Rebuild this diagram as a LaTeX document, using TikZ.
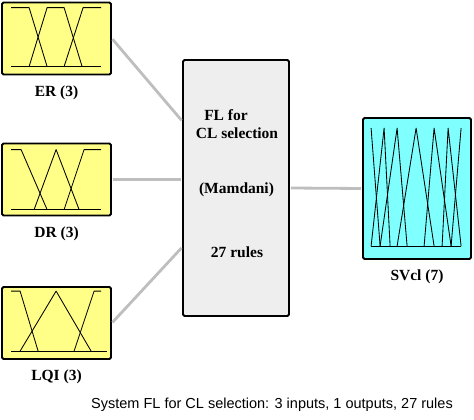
\documentclass[tikz,border=0pt]{standalone}
\usepackage{fontspec}
\setmainfont{Liberation Serif}
\newfontfamily\sysfont{Liberation Sans}
\usepackage{xcolor}
\usepackage{tikz}
\usetikzlibrary{
  positioning,
  calc
}
\definecolor{invar}{RGB}{255,255,136}
\definecolor{outvar}{RGB}{128,255,255}
\definecolor{rulebox}{RGB}{238,238,238}
\definecolor{linkgray}{RGB}{190,190,190}

\begin{document}
\begin{tikzpicture}[%設定
          x=1pt,y=-1pt,
          varbox/.style={
              draw=black,
              line width=1.8pt,
              rounded corners=1.5pt,
              minimum width=109pt,
              minimum height=72pt,
              inner sep=0pt,
              fill=#1
            },varbox/.default=invar
          ,mf/.style={
              line width=0.85pt,
              line join=round
            },varname/.style={
              font=\fontsize{15.5}{18}\selectfont\bfseries,
              inner sep=0pt,
              below=10pt of #1
            },boldtext/.style={
              font=\fontsize{15.5}{18}\selectfont\bfseries,
              inner sep=0pt
            },link/.style={
              draw=linkgray,
              line width=2.8pt,
              shorten <=0.9pt,
              shorten >=0.9pt
            }
        ]
        \useasboundingbox (0,0) rectangle (474,420);

        % 入力変数
        \node[varbox] (er) at (56.5,38.5) {};
        \node[varname=er] (er_name) {ER (3)};
        \node[varbox] (dr) at (56.5,179.5) {};
        \node[varname=dr] (dr_name) {DR (3)};
        \node[varbox] (lqi) at (56.5,323) {};
        \node[varname=lqi] (lqi_name) {LQI (3)};

        % ルールブロック
        \node[
          varbox=rulebox,
          minimum width=106pt,
          minimum height=256pt
        ] (fl) at (236,188) {};
        \node[boldtext] (fl_title) at (226,115) {FL for};
        \node[boldtext] (fl_sel) at (237,133) {CL selection};
        \node[boldtext] (fl_type) at (236.5,190) {(Mamdani)};
        \node[boldtext] (fl_rules) at (237,252) {27 rules};

        % 出力変数
        \node[
          varbox=outvar,
          minimum width=108pt,
          minimum height=141pt
        ] (svcl) at (417,188.5) {};
        \node[varname=svcl] (svcl_name) {SVcl (7)};

        % メンバーシップ関数
        \begin{scope}[shift={(er.north west)}]
          \draw[mf] (10,65) -- (100,65);
          \draw[mf] (10,6) -- (28,6) -- (46,65);
          \draw[mf] (28,65) -- (46,6) -- (63,6) -- (81,65);
          \draw[mf] (63,65) -- (82,6) -- (100,6);
        \end{scope}
        \begin{scope}[shift={(dr.north west)}]
          \draw[mf] (10,67) -- (100,67);
          \draw[mf] (10,7) -- (20,7) -- (46,67);
          \draw[mf] (33,67) -- (55,7) -- (78,67);
          \draw[mf] (63,67) -- (83,7) -- (100,7);
        \end{scope}
        \begin{scope}[shift={(lqi.north west)}]
          \draw[mf] (10,65) -- (106,65);
          \draw[mf] (10,5) -- (19,5) -- (37,65);
          \draw[mf] (19,65) -- (55,5) -- (90,65);
          \draw[mf] (73,65) -- (93,5) -- (100,5);
        \end{scope}
        \begin{scope}[shift={(svcl.north west)}]
          \draw[mf] (9,129) -- (99,129);
          \draw[mf] (9,11) -- (18,129);
          \draw[mf] (9,129) -- (22,11) -- (28,129);
          \draw[mf] (18,129) -- (35,11) -- (45,129);
          \draw[mf] (35,129) -- (54,11) -- (72,129);
          \draw[mf] (62,129) -- (72,11) -- (89,129);
          \draw[mf] (80,129) -- (86,11) -- (99,129);
          \draw[mf] (99,11) -- (89,129);
        \end{scope}

        % 接続線
        \draw[link] (er.east) -- ($(fl.north west)!0.24!(fl.south west)$);
        \draw[link] (dr.east) -- (dr.east -| fl.west);
        \draw[link] (lqi.east) -- ($(fl.north west)!0.73!(fl.south west)$);
        \draw[link] (fl.east) -- (svcl.west);

        % 説明
        \node[
          font=\sysfont\fontsize{14.5}{17}\selectfont,
          inner sep=0pt
        ] (caption) at (272,405) {System FL for CL selection: 3 inputs, 1 outputs, 27 rules};
      \end{tikzpicture}
\end{document}
